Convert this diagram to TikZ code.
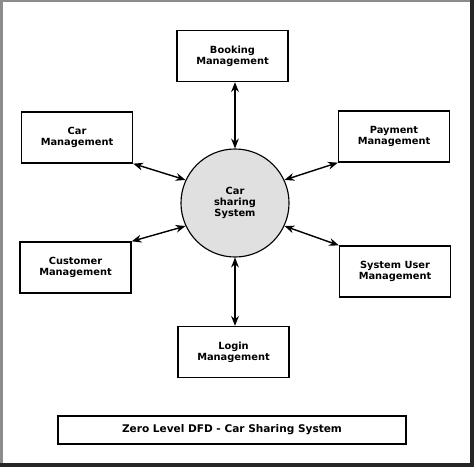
\documentclass[tikz,border=0pt]{standalone}
\usepackage{fontspec}
\setmainfont{DejaVu Sans}
\usetikzlibrary{arrows.meta}
\begin{document}
\begin{tikzpicture}[x=0.025cm,y=-0.025cm,
  font=\fontsize{7}{7.8}\selectfont\bfseries,
  entity/.style={draw,line width=0.9pt,minimum width=2.775cm,minimum height=1.275cm,align=center,inner sep=0pt},
  proc/.style={draw,line width=0.8pt,circle,fill=black!12,minimum size=2.7cm,align=center,inner sep=0pt},
  flow/.style={{Stealth[length=7pt,width=5.5pt]}-{Stealth[length=7pt,width=5.5pt]},line width=1pt}]
\useasboundingbox (0,0) rectangle (474,467);
% frame
\fill[black!45] (0,0) rectangle (474,467);
\fill[black!85] (470,0) rectangle (474,467);
\fill[black!85] (0,463) rectangle (474,467);
\fill[white] (3,2) rectangle (470,463);
% process
\node[proc] (sys) at (235,203) {Car\\sharing\\System};
% entities
\node[entity] (book) at (232.5,56) {Booking\\Management};
\node[entity] (car) at (77,137.5) {Car\\Management};
\node[entity] (pay) at (394,136.5) {Payment\\Management};
\node[entity] (cust) at (75.5,267.5) {Customer\\Management};
\node[entity] (sysu) at (395,271.5) {System User\\Management};
\node[entity] (login) at (233.5,352) {Login\\Management};
% flows
\draw[flow] (sys.north |- book.south) -- (sys.north);
\draw[flow] (car.south east) -- (sys.155);
\draw[flow] (pay.south west) -- (sys.25);
\draw[flow] (cust.north east) -- (sys.205);
\draw[flow] (sysu.north west) -- (sys.-25);
\draw[flow] (sys.south |- login.north) -- (sys.south);
% title
\node[draw,line width=0.9pt,minimum width=8.7cm,minimum height=0.7cm,font=\fontsize{7.5}{9}\selectfont\bfseries] (title) at (232,430) {Zero Level DFD - Car Sharing System};
\end{tikzpicture}
\end{document}
